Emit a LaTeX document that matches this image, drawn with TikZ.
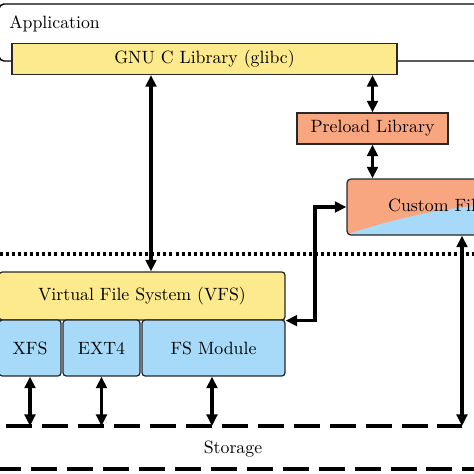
\documentclass[tikz,border=0pt]{standalone}
\usetikzlibrary{arrows.meta,calc}
\definecolor{cyel}{RGB}{253,234,140}
\definecolor{csal}{RGB}{248,166,128}
\definecolor{cblu}{RGB}{166,218,248}
\definecolor{cbor}{RGB}{40,40,40}
\def\px{0.5618pt}
\begin{document}
\begin{tikzpicture}[x=0.5618pt,y=-0.5618pt,
  box/.style={draw=cbor, line width=0.7pt, inner sep=0pt, anchor=center},
  tip/.style={Triangle[length=6.5pt,width=6pt]},
  arr/.style={line width=1.8pt, {Triangle[length=6.5pt,width=6pt]}-{Triangle[length=6.5pt,width=6pt]}},
  sep/.style={line width=1.8pt}]
\useasboundingbox (0,0) rectangle (474,474);
\clip (0,0) rectangle (474,474);

% application frame
\draw[line width=0.8pt, rounded corners=2.8pt] (-1,4) rectangle (640,61);
\node[anchor=base west, inner sep=0pt] (applabel) at (9,28) {Application};

% glibc
\node[box, fill=cyel, minimum width=385*\px, minimum height=31*\px] (glibc) at (204.5,59) {GNU C Library (glibc)};

% preload
\node[box, fill=csal, minimum width=151*\px, minimum height=31*\px] (preload) at (372.5,128.5) {Preload Library};

% custom file system
\fill[csal, rounded corners=2.2pt] (347,179) rectangle (587,235);
\begin{scope}
  \clip[rounded corners=2.2pt] (347,179) rectangle (587,235);
  \fill[cblu] (347,238) -- (348,234) .. controls (385,222) and (430,210) .. (474,206)
     .. controls (520,202) .. (600,200) -- (600,240) -- (347,240) -- cycle;
\end{scope}
\node[box, rounded corners=2.2pt, minimum width=240*\px, minimum height=56*\px] (custom) at (467,207) {Custom File System};

% VFS
\node[box, fill=cyel, rounded corners=1.8pt, minimum width=286*\px, minimum height=48*\px] (vfs) at (142,296) {Virtual File System (VFS)};

% file systems
\node[box, fill=cblu, rounded corners=1.8pt, minimum width=62*\px, minimum height=56*\px] (xfs) at (30,348) {XFS};
\node[box, fill=cblu, rounded corners=1.8pt, minimum width=77*\px, minimum height=56*\px] (ext4) at (101.5,348) {EXT4};
\node[box, fill=cblu, rounded corners=1.8pt, minimum width=143*\px, minimum height=56*\px] (fsmod) at (213.5,348) {FS Module};

% separators
\coordinate (dotL) at (0,254);
\coordinate (dotR) at (474,254);
\draw[sep, dash pattern=on 1.7pt off 1.7pt] (dotL) -- (dotR);

\coordinate (stL) at (6,426);
\coordinate (stR) at (462,426);
\draw[sep, dash pattern=on 14.6pt off 5.6pt] (stL) -- (stR);

\coordinate (botL) at (-5,469);
\coordinate (botR) at (480,469);
\draw[sep, dash pattern=on 14.6pt off 5.6pt] (botL) -- (botR);

\node (storage) at (233,449) {Storage};

% arrows
\coordinate (a1) at (151,0);
\draw[arr] (glibc.south -| a1) -- (vfs.north -| a1);
\draw[arr] (glibc.south -| preload.north) -- (preload.north);
\draw[arr] (preload.south) -- (preload.south |- custom.north);
\coordinate (bend) at (315,0);
\draw[arr] (custom.west) -- (custom.west -| bend) -- (vfs.south east -| bend) -- (vfs.south east);
\draw[arr] (custom.south -| stR) -- (stR);
\draw[arr] (xfs.south) -- (xfs.south |- stL);
\draw[arr] (ext4.south) -- (ext4.south |- stL);
\coordinate (a2) at (212,0);
\draw[arr] (fsmod.south -| a2) -- (stL -| a2);
\end{tikzpicture}
\end{document}
